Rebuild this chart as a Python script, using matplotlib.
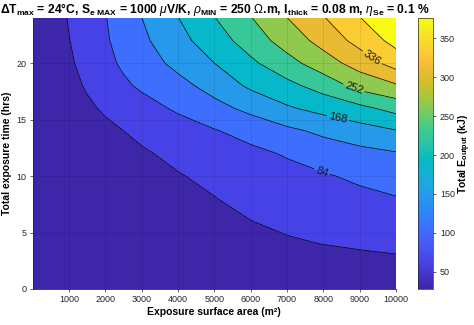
# Contour map of total energy output vs exposure area and exposure time
import matplotlib
matplotlib.use("Agg")
import matplotlib.pyplot as plt
import numpy as np
from matplotlib.colors import LinearSegmentedColormap, Normalize
from matplotlib.cm import ScalarMappable

plt.rcParams['font.family'] = ['Liberation Sans', 'DejaVu Sans']
plt.rcParams['mathtext.fontset'] = 'custom'
plt.rcParams['mathtext.rm'] = 'Liberation Sans'
plt.rcParams['mathtext.it'] = 'Liberation Sans:italic'
plt.rcParams['mathtext.bf'] = 'Liberation Sans:bold'

# exposure surface area (m^2) and total exposure time (hrs) of the grid
area_m2 = [0, 500, 1000, 1500, 2000, 2500, 3000, 4000, 5000, 6000, 7000, 8000, 9000, 10000]
time_hrs = [0, 2, 4, 6, 8, 10, 12, 14, 16, 18, 20, 22, 24]

# total E output (kJ), one list per area column (t = 0 .. 24)
e_a0 = [0, 0, 0, 0, 0, 0, 0, 0, 0, 0, 0, 0, 0]
e_a500 = [0, 1.5, 2.7, 3.5, 4.1, 5.0, 6.3, 8.4, 11.9, 15.2, 18.1, 20.4, 22.3]
e_a1000 = [0, 3.0, 5.3, 6.9, 8.2, 10.0, 12.6, 16.8, 23.7, 30.5, 36.2, 40.8, 44.3]
e_a1500 = [0, 4.5, 8.0, 10.4, 12.3, 15.0, 18.9, 25.1, 35.6, 45.8, 54.6, 60.0, 63.2]
e_a2000 = [0, 6.0, 10.6, 13.8, 16.4, 20.0, 25.2, 33.5, 46.9, 61.5, 73.1, 79.2, 82.2]
e_a2500 = [0, 7.5, 13.3, 17.3, 20.5, 25.0, 31.5, 41.9, 57.5, 77.1, 90.4, 98.3, 103.7]
e_a3000 = [0, 9.0, 16.0, 20.8, 24.6, 30.0, 37.9, 49.8, 68.2, 90.3, 106.0, 117.4, 125.5]
e_a4000 = [0, 12.0, 21.3, 27.7, 32.8, 39.9, 50.2, 65.5, 89.9, 112.7, 137.1, 154.3, 167.1]
e_a5000 = [0, 15.0, 26.6, 34.6, 41.0, 49.7, 62.3, 81.3, 112.7, 141.6, 167.9, 190.5, 208.6]
e_a6000 = [0, 18.0, 31.9, 41.5, 52.0, 59.4, 74.5, 98.3, 136.8, 175.2, 202.1, 228.8, 250.1]
e_a7000 = [0, 20.0, 37.3, 49.6, 61.5, 71.0, 87.7, 117.0, 162.9, 198.6, 236.7, 270.7, 293.5]
e_a8000 = [0, 21.5, 42.6, 55.1, 67.7, 80.3, 103.3, 134.5, 181.7, 226.8, 275.3, 308.3, 333.3]
e_a9000 = [0, 26.4, 47.5, 61.1, 74.6, 91.0, 114.0, 150.5, 199.3, 266.1, 311.5, 350.6, 376.5]
e_a10000 = [0, 30.5, 51.5, 66.6, 81.7, 101.9, 122.9, 165.7, 224.0, 288.8, 354.0, 391.5, 418.6]

levels = [0, 42, 84, 126, 168, 210, 252, 294, 336, 378, 420]
plain_levels = [42, 126, 210, 294, 378]
labelled = [84, 168, 252, 336]
cbar_ticks = [50, 100, 150, 200, 250, 300, 350]

energy = np.array([e_a0, e_a500, e_a1000, e_a1500, e_a2000, e_a2500, e_a3000,
                   e_a4000, e_a5000, e_a6000, e_a7000, e_a8000, e_a9000, e_a10000]).T

# parula (matlab) approximation
parula_rows = [
    [0.2422, 0.1504, 0.6603], [0.2647, 0.1978, 0.7952], [0.2783, 0.2559, 0.8991],
    [0.2810, 0.3228, 0.9579], [0.2699, 0.3892, 0.9906], [0.2206, 0.4603, 0.9973],
    [0.1786, 0.5289, 0.9682], [0.1540, 0.5902, 0.9218], [0.1248, 0.6459, 0.8883],
    [0.0689, 0.6948, 0.8394], [0.0067, 0.7312, 0.7660], [0.1408, 0.7584, 0.6842],
    [0.2161, 0.7843, 0.5923], [0.3406, 0.8008, 0.4789], [0.5044, 0.7993, 0.3480],
    [0.6720, 0.7793, 0.2227], [0.8203, 0.7498, 0.1535], [0.9393, 0.7288, 0.2100],
    [0.9970, 0.7659, 0.2199], [0.9786, 0.8386, 0.1766], [0.9597, 0.9135, 0.1423],
    [0.9769, 0.9839, 0.0805]]
parula = LinearSegmentedColormap.from_list('parula', parula_rows, N=256)
band_pos = [0.0, 0.10, 0.22, 0.34, 0.46, 0.57, 0.68, 0.80, 0.88, 1.0]
band_colors = [parula(p) for p in band_pos]

fig = plt.figure(figsize=(4.74, 3.25), dpi=100)
ax = fig.add_axes([0.0686, 0.1108, 0.767, 0.8338])

ax.contourf(area_m2, time_hrs, energy, levels=levels, colors=band_colors)
ax.contour(area_m2, time_hrs, energy, levels=plain_levels, colors='k',
           linewidths=0.5)
cs = ax.contour(area_m2, time_hrs, energy, levels=labelled, colors='k',
                linewidths=0.5)
label_spots = [(7980, 10.55), (8390, 14.97), (8805, 17.48), (9265, 20.13)]
ax.clabel(cs, inline=True, fmt='%d', fontsize=8, manual=label_spots,
          inline_spacing=2, colors='#1a1a1a')

ax.set_xlim(0, 10000)
ax.set_ylim(0, 24)
ax.set_xticks([1000, 2000, 3000, 4000, 5000, 6000, 7000, 8000, 9000, 10000])
ax.set_yticks([0, 5, 10, 15, 20])
ax.grid(True, color='k', alpha=0.12, lw=0.5)
ax.set_axisbelow(False)
for s in ['top', 'right']:
    ax.spines[s].set_visible(False)
for s in ['left', 'bottom']:
    ax.spines[s].set_color('#262626')
    ax.spines[s].set_linewidth(0.6)
ax.tick_params(direction='out', length=2.5, width=0.5, labelsize=6.5,
               colors='#262626', pad=2)

ax.set_xlabel('Exposure surface area (m²)', fontsize=7.5, fontweight='bold',
              labelpad=2)
ax.set_ylabel('Total exposure time (hrs)', fontsize=7.5, fontweight='bold',
              labelpad=3)
ax.set_title(r'$\mathbf{\Delta T_{max}}$ = 24°C, $\mathbf{S_{e\ MAX}}$ = 1000 $\mu$V/K, '
             r'$\rho_{\mathbf{MIN}}$ = 250 $\Omega$.m, $\mathbf{l_{thick}}$ = 0.08 m, '
             r'$\eta_{\mathbf{Se}}$ = 0.1 %', fontsize=8.7, fontweight='bold', pad=3)

cax = fig.add_axes([0.8819, 0.1108, 0.0316, 0.8338])
sm = ScalarMappable(norm=Normalize(28, 376), cmap=parula)
cb = fig.colorbar(sm, cax=cax, ticks=cbar_ticks)
cb.outline.set_edgecolor('#262626')
cb.outline.set_linewidth(0.5)
cb.ax.tick_params(labelsize=6.5, colors='#262626', length=2, width=0.5, pad=3)
cb.set_label(r'Total E$_{\mathbf{output}}$ (kJ)', fontsize=7.5, fontweight='bold',
             labelpad=1)

fig.savefig('out.png', dpi=100)
